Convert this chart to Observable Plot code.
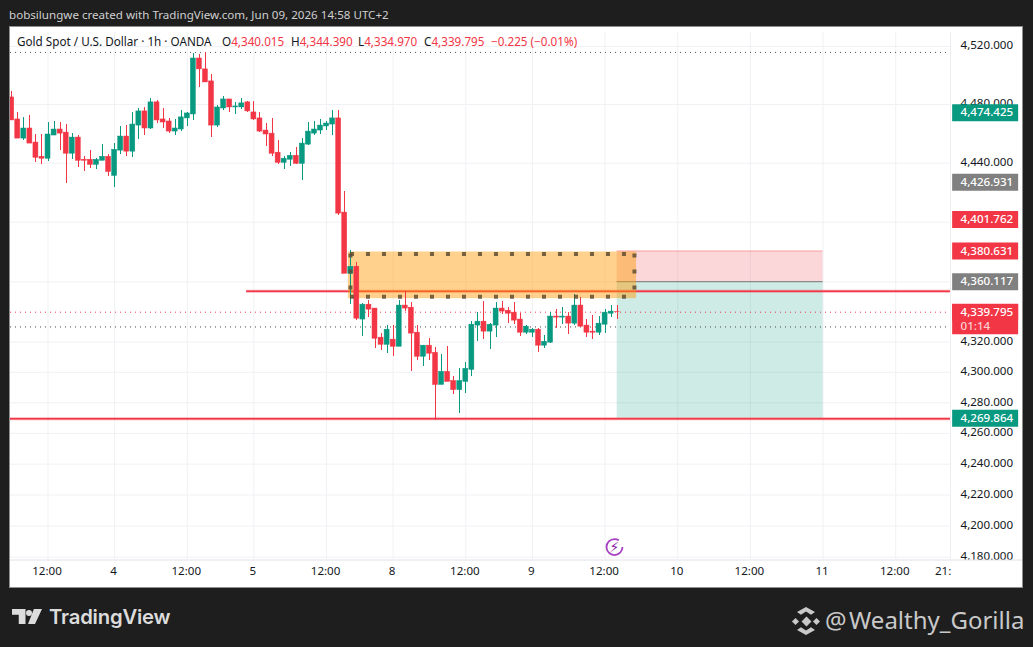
<!DOCTYPE html>
<html>
<head>
<meta charset="utf-8">
<script src="https://cdn.jsdelivr.net/npm/d3@7"></script>
<script src="https://cdn.jsdelivr.net/npm/@observablehq/plot@0.6"></script>
<style>
html,body{margin:0;padding:0;background:#1e1e1e;width:1033px;height:647px;overflow:hidden;font-family:"Noto Sans",sans-serif}
#credit{position:absolute;left:9px;top:6px;font-size:11.6px;line-height:17px;color:#cfcfcf;white-space:nowrap}
#panel{position:absolute;left:10px;top:27px;width:1012px;height:560px;background:#fff;box-shadow:0 0 0 1px #8f8f8f}
#panel svg{display:block;position:absolute;left:0;top:0;background:transparent}
#legend span{position:absolute;top:6px;font-size:11.7px;line-height:16px;white-space:nowrap;color:#f23645}
#legend span.k{color:#131722}
#legend b{font-weight:400;color:#131722}
#brand{position:absolute;left:49px;top:602px;font:600 20.3px/30px Inter,sans-serif;color:#dcdcdc;letter-spacing:-.2px}
#at,#mark{position:absolute;top:602px;font:400 24px/36px "Noto Sans",sans-serif;color:#c9c9c9;white-space:nowrap}
#at{left:825px}
#mark{left:849px}
.s{position:absolute;background:#dcdcdc}
.b{position:absolute;background:#c9c9c9}
</style>
</head>
<body>
<div id="credit">bobsilungwe created with TradingView.com, Jun 09, 2026 14:58 UTC+2</div>
<div id="panel">
  <div id="chart"></div>
  <div id="legend">
    <span class="k" style="left:7px">Gold Spot / U.S. Dollar · 1h · OANDA</span>
    <span style="left:212px"><b>O</b>4,340.015</span>
    <span style="left:281px"><b>H</b>4,344.390</span>
    <span style="left:348px"><b>L</b>4,334.970</span>
    <span style="left:414px"><b>C</b>4,339.795</span>
    <span style="left:481px">−0.225 (−0.01%)</span>
  </div>
</div>
<div id="brand">TradingView</div>
<div id="at">@</div>
<div id="mark">Wealthy_Gorilla</div>
<script>
// ---- OHLC (one entry per hourly bar) ----
const open = [4484.9,4469.8,4456.7,4463.6,4454.0,4444.3,4443.0,4458.8,4462.9,4460.8,
4446.4,4457.4,4442.3,4442.3,4438.8,4441.6,4444.3,4431.3,4448.5,4458.1,
4447.8,4465.6,4475.3,4463.6,4481.5,4469.8,4468.4,4461.5,4462.9,4470.5,
4473.2,4511.7,4504.2,4495.9,4465.6,4477.3,4483.5,4478.0,4478.0,4481.5,
4474.6,4470.5,4462.2,4460.1,4447.1,4440.2,4442.3,4445.0,4439.5,4452.6,
4460.1,4462.2,4465.0,4466.3,4470.5,4406.5,4365.4,4370.1,4334.9,4344.8,
4342.2,4322.9,4318.2,4321.6,4316.9,4344.2,4342.8,4326.2,4310.3,4317.6,
4312.9,4291.7,4300.3,4294.3,4288.3,4293.7,4301.6,4330.9,4333.5,4326.9,
4330.9,4342.2,4340.8,4339.5,4334.9,4326.2,4326.2,4328.2,4317.6,4319.6,
4336.9,4336.2,4336.9,4332.2,4344.2,4330.9,4326.9,4326.2,4331.5,4338.8,
4340.015];
const high = [4489.0,4474.6,4471.2,4472.5,4459.5,4459.5,4467.7,4468.4,4467.7,4466.3,
4460.1,4458.8,4444.3,4448.5,4443.0,4452.6,4445.7,4453.3,4465.0,4465.6,
4474.6,4477.3,4478.0,4484.2,4482.8,4477.3,4470.5,4469.8,4476.0,4474.6,
4515.2,4514.5,4515.9,4500.7,4479.4,4485.6,4483.5,4481.5,4484.2,4482.2,
4482.2,4474.6,4467.0,4470.5,4455.3,4444.3,4447.1,4450.5,4456.7,4467.7,
4468.4,4469.8,4468.4,4476.0,4476.0,4420.9,4380.7,4372.7,4345.5,4347.5,
4342.2,4325.6,4330.9,4330.9,4347.5,4353.5,4346.2,4330.9,4317.6,4322.2,
4316.3,4311.6,4316.9,4297.6,4302.3,4306.3,4333.5,4339.5,4346.8,4332.2,
4346.2,4346.8,4342.8,4346.2,4338.8,4330.9,4328.9,4328.9,4324.2,4339.5,
4341.5,4342.8,4339.5,4351.5,4349.5,4334.9,4337.5,4336.9,4341.5,4344.2,
4344.39];
const low = [4469.1,4456.7,4455.3,4453.3,4440.2,4438.8,4440.9,4458.8,4448.5,4426.4,
4442.3,4436.8,4434.0,4436.1,4435.4,4441.6,4430.6,4423.7,4445.7,4444.3,
4443.6,4456.0,4458.8,4462.9,4467.0,4463.6,4460.1,4458.8,4461.5,4465.0,
4469.1,4491.8,4495.2,4457.4,4464.3,4476.0,4474.6,4473.2,4476.7,4474.6,
4469.1,4460.8,4451.2,4444.3,4438.8,4435.4,4437.4,4438.8,4428.5,4451.9,
4458.8,4459.5,4462.2,4458.8,4404.4,4365.4,4344.8,4334.2,4323.6,4336.2,
4315.6,4314.3,4312.3,4310.3,4316.9,4340.2,4300.3,4307.6,4303.6,4307.6,
4268.6,4291.7,4293.7,4285.7,4273.1,4286.4,4297.6,4320.2,4321.6,4314.9,
4322.9,4338.2,4332.2,4331.5,4323.6,4324.9,4322.9,4312.9,4315.6,4318.9,
4328.9,4331.5,4324.9,4330.9,4329.5,4322.9,4321.6,4324.2,4325.6,4336.2,
4334.97];
const close = [4469.1,4456.7,4463.6,4453.3,4443.6,4443.0,4459.5,4462.9,4460.1,4446.4,
4457.4,4441.6,4441.6,4438.8,4442.3,4444.3,4434.0,4449.1,4458.1,4447.8,
4466.3,4475.3,4463.6,4481.5,4469.1,4467.7,4461.5,4463.6,4471.2,4473.9,
4511.7,4504.2,4495.2,4465.6,4478.0,4483.5,4478.0,4478.7,4480.8,4475.3,
4469.8,4461.5,4459.5,4446.4,4440.2,4443.0,4445.0,4439.5,4453.3,4461.5,
4462.9,4465.6,4467.0,4470.5,4405.8,4365.4,4370.1,4335.5,4344.8,4341.5,
4322.2,4318.2,4328.2,4316.9,4344.2,4342.2,4325.6,4310.3,4317.6,4312.3,
4291.7,4300.3,4293.7,4288.3,4294.3,4302.3,4331.5,4333.5,4326.9,4331.5,
4342.2,4340.2,4338.8,4334.2,4326.2,4330.2,4328.2,4317.6,4320.2,4336.9,
4336.2,4336.9,4332.2,4344.2,4330.2,4326.2,4326.2,4332.2,4339.5,4340.2,
4339.795];

// ---- axes ----
const priceTicks = [4520,4480,4440,4400,4360,4320,4300,4280,4260,4240,4220,4200,4180];
const priceLabels = [4520,4480,4440,4320,4300,4280,4260,4240,4220,4200,4180];
const timeTicks  = [6,17,29,40,52,63,75,86,98,110,122,134,146,154];
const timeLabels = ["12:00","4","12:00","5","12:00","8","12:00","9","12:00","10","12:00","11","12:00","21:"];
const gridTimes  = timeTicks.slice(0,13);

// ---- price-axis tags ----
const tagPrices = [4474.425,4426.931,4401.762,4380.631,4360.117,4339.795,4269.864];
const tagColors = ["#089981","#808080","#f23645","#f23645","#808080","#f23645","#089981"];
const countdown = "01:14";

// ---- drawings ----
const lastPrice = 4339.795, highLine = 4515.9, lowLine = 4330.0;
const levelA = 4353.8, levelB = 4269.5;
const entry = 4360.117, stopLevel = 4380.631, target = 4269.864;
const zoneTop = 4380.0, zoneBottom = 4348.8, edgeTop = 4378.7, edgeBottom = 4350.1;
const tradeStart = 100, tradeEnd = 134;
const zoneStart = 55.6, zoneEnd = 103.2, edgeStart = 55.95, edgeEnd = 102.85;
const levelAStart = 38.8;
const paneLeft = -0.2, paneRight = 155.04, tagLeft = 155.4, tagRight = 166.3, axisRight = 167.5;
const paneFloor = 4178.2;
const signalBar = 99.55, signalPrice = 4186.5;

const up = "#089981", down = "#f23645", ink = "#131722", grid = "#f0f1f4";
const bars = open.map((o,i)=>({i,o,h:high[i],l:low[i],c:close[i],color:close[i]>=o?up:down}));
const tags = tagPrices.map((v,i)=>({v,color:tagColors[i],label:d3.format(",.3f")(v)}));
const fmt = d3.format(",.3f");
const hw = 0.41;

const chart = Plot.plot({
  width:1012,height:560,
  marginLeft:0,marginRight:72,marginTop:0,marginBottom:27,
  style:{background:"transparent",fontFamily:'"Noto Sans",sans-serif'},
  x:{type:"linear",domain:[0,100],range:[1.2,606.7],axis:null},
  y:{type:"log",domain:[4520,4180],range:[19,529.7],axis:null},
  marks:[
    Plot.ruleY(priceTicks,{stroke:grid,strokeWidth:1,x1:paneLeft,x2:paneRight}),
    Plot.ruleX(gridTimes,{stroke:grid,strokeWidth:1,y1:4530,y2:paneFloor}),
    // trade box
    Plot.rect([0],{x1:tradeStart,x2:tradeEnd,y1:entry,y2:stopLevel,fill:down,fillOpacity:.2}),
    Plot.rect([0],{x1:tradeStart,x2:tradeEnd,y1:target,y2:entry,fill:up,fillOpacity:.2}),
    Plot.ruleY([stopLevel],{x1:tradeStart,x2:tradeEnd,stroke:down,strokeOpacity:.35,strokeWidth:1}),
    Plot.ruleY([entry],{x1:tradeStart,x2:tradeEnd,stroke:"#787878",strokeWidth:1}),
    // dotted price lines
    Plot.ruleY([highLine],{x1:paneLeft,x2:paneRight,stroke:"#555",strokeWidth:1,strokeDasharray:"1,4"}),
    Plot.ruleY([lowLine],{x1:paneLeft,x2:paneRight,stroke:"#444",strokeWidth:1,strokeDasharray:"1,4"}),
    Plot.ruleY([lastPrice],{x1:paneLeft,x2:paneRight,stroke:down,strokeWidth:1,strokeDasharray:"1,4"}),
    // horizontal levels with halo
    Plot.ruleY([levelA],{x1:levelAStart,x2:paneRight,stroke:down,strokeOpacity:.4,strokeWidth:3}),
    Plot.ruleY([levelA],{x1:levelAStart,x2:paneRight,stroke:down,strokeWidth:1.5}),
    Plot.ruleY([levelB],{x1:paneLeft,x2:paneRight,stroke:down,strokeOpacity:.4,strokeWidth:3}),
    Plot.ruleY([levelB],{x1:paneLeft,x2:paneRight,stroke:down,strokeWidth:1.5}),
    // orange zone
    Plot.rect([0],{x1:zoneStart,x2:zoneEnd,y1:zoneBottom,y2:zoneTop,fill:"#ff9800",fillOpacity:.45}),
    // candles
    Plot.ruleX(bars,{x:"i",y1:"l",y2:"h",stroke:"color",strokeWidth:1,shapeRendering:"crispEdges"}),
    Plot.rect(bars,{x1:d=>d.i-hw,x2:d=>d.i+hw,y1:"o",y2:"c",fill:"color",stroke:"color",strokeWidth:.5}),
    // dashed zone edges
    Plot.ruleY([edgeTop,edgeBottom],{x1:edgeStart,x2:edgeEnd,stroke:"#5f4e33",strokeOpacity:.85,strokeWidth:4,strokeDasharray:"4,12"}),
    Plot.ruleX([edgeStart,edgeEnd],{y1:edgeTop,y2:edgeBottom,stroke:"#5f4e33",strokeOpacity:.85,strokeWidth:4,strokeDasharray:"4,12"}),
    // signal icon
    Plot.dot([0],{x:signalBar,y:signalPrice,r:8,stroke:"#a63fc0",strokeWidth:1.8,strokeDasharray:"42,8.3",fill:"none"}),
    Plot.text(["⚡"],{x:signalBar,y:signalPrice,fill:"#8e24aa",fontSize:14,fontWeight:700,fontFamily:"DejaVu Sans"}),
    // axes
    Plot.ruleX([paneRight],{y1:4530,y2:paneFloor,stroke:"#eceef2",strokeWidth:1}),
    Plot.axisY(priceLabels,{anchor:"right",tickSize:0,tickPadding:10,textAnchor:"start",tickFormat:fmt,fontSize:11.6,fill:ink,label:null,marginRight:72,dy:-1}),
    Plot.ruleY([paneFloor],{x1:paneLeft,x2:axisRight,stroke:"#fff",strokeWidth:28,dy:14}),
    Plot.ruleY([paneFloor],{x1:paneLeft,x2:axisRight,stroke:"#e0e0ea",strokeWidth:1}),
    Plot.axisX(timeTicks,{anchor:"bottom",tickSize:0,tickPadding:6,fontSize:11.6,fill:ink,label:null,dx:-1,
      tickFormat:d=>timeLabels[timeTicks.indexOf(d)]}),
    // tags
    Plot.ruleY(tags,{y:"v",x1:tagLeft,x2:tagRight,stroke:"color",strokeWidth:17}),
    Plot.ruleY([lastPrice],{x1:tagLeft,x2:tagRight,stroke:down,strokeWidth:30,dy:7}),
    Plot.text(tags,{y:"v",text:"label",frameAnchor:"right",textAnchor:"start",dx:10,fill:"#fff",fontSize:11.6,fontWeight:500}),
    Plot.text([countdown],{y:()=>lastPrice,frameAnchor:"right",textAnchor:"start",dx:10,dy:14,fill:"#fbd0d4",fontSize:11.6,fontWeight:500})
  ]
});
document.getElementById("chart").appendChild(chart);

// footer emblems
function shape(cls,l,t,w,h,css){const d=document.createElement("div");d.className=cls;
  d.style.cssText=`left:${l}px;top:${t}px;width:${w}px;height:${h}px;${css||""}`;document.body.appendChild(d);}
shape("s",12,609,13.5,15,"clip-path:polygon(0 0,100% 0,100% 100%,50% 100%,50% 38%,0 38%)");
shape("s",26,609.5,6,6,"border-radius:50%");
shape("s",28,609,14,15,"clip-path:polygon(42% 0,100% 0,50% 100%,0 100%)");
shape("b",802.5,617.5,7,7,"transform:rotate(45deg)");
shape("b",793,619,5,5,"transform:rotate(45deg)");
shape("b",814,619,5,5,"transform:rotate(45deg)");
shape("b",797,607,18,10,"clip-path:polygon(50% 0,100% 50%,78% 78%,50% 45%,22% 78%,0 50%)");
shape("b",797,625,18,10,"clip-path:polygon(50% 100%,100% 50%,78% 22%,50% 55%,22% 22%,0 50%)");
</script>
</body>
</html>
